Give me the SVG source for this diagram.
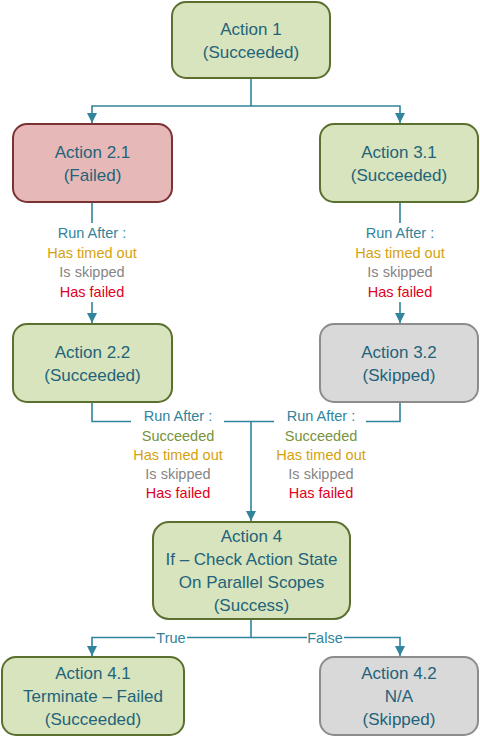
<svg xmlns="http://www.w3.org/2000/svg" width="480" height="741" viewBox="0 0 480 741">
<style>
.node rect{stroke-width:2}
.ok rect{fill:#d7e4bd;stroke:#5b6f2e}
.bad rect{fill:#e6b9b8;stroke:#7b3232}
.skip rect{fill:#d9d9d9;stroke:#8c8c8c}
.node text{font-family:"Liberation Sans",Arial,sans-serif;font-size:17px;fill:#23637a;text-anchor:middle}
.lbl{font-family:"Liberation Sans",Arial,sans-serif;font-size:14.5px;text-anchor:middle}
.ra{fill:#31849b}.to{fill:#d4a20c}.sk{fill:#858585}.fl{fill:#e0001b}.sc{fill:#77933c}
.conn path{fill:none;stroke:#31849b;stroke-width:1.6}
</style>
<defs>
<marker id="arr" markerUnits="userSpaceOnUse" markerWidth="10" markerHeight="10" viewBox="0 0 10 10" refX="10" refY="5" orient="auto">
<path d="M0,0 L10,5 L0,10 z" fill="#31849b"/>
</marker>
</defs>
<g id="connectors" class="conn">
<path d="M251,78 V106 H92 V123" marker-end="url(#arr)"/>
<path d="M251,106 H400 V123" marker-end="url(#arr)"/>
<path d="M92,202 V223"/>
<path d="M92,302 V323" marker-end="url(#arr)"/>
<path d="M400,202 V223"/>
<path d="M400,302 V323" marker-end="url(#arr)"/>
<path d="M92,402 V421.5 H131"/>
<path d="M224,421.5 H274"/>
<path d="M400,402 V421.5 H366"/>
<path d="M251,421.5 V521" marker-end="url(#arr)"/>
<path d="M251,619 V637.5 H92 V656" marker-end="url(#arr)"/>
<path d="M251,637.5 H400 V656" marker-end="url(#arr)"/>
<rect x="155" y="628" width="32" height="18" fill="#ffffff"/>
<rect x="307" y="628" width="37" height="18" fill="#ffffff"/>
<text class="lbl ra" x="171" y="642.5">True</text>
<text class="lbl ra" x="325" y="642.5">False</text>
<text class="lbl ra" x="92" y="238">Run After :</text>
<text class="lbl to" x="92" y="258">Has timed out</text>
<text class="lbl sk" x="92" y="277">Is skipped</text>
<text class="lbl fl" x="92" y="297">Has failed</text>
<text class="lbl ra" x="400" y="238">Run After :</text>
<text class="lbl to" x="400" y="258">Has timed out</text>
<text class="lbl sk" x="400" y="277">Is skipped</text>
<text class="lbl fl" x="400" y="297">Has failed</text>
<text class="lbl ra" x="178" y="421">Run After :</text>
<text class="lbl sc" x="178" y="440.5">Succeeded</text>
<text class="lbl to" x="178" y="460">Has timed out</text>
<text class="lbl sk" x="178" y="479">Is skipped</text>
<text class="lbl fl" x="178" y="498">Has failed</text>
<text class="lbl ra" x="321" y="421">Run After :</text>
<text class="lbl sc" x="321" y="440.5">Succeeded</text>
<text class="lbl to" x="321" y="460">Has timed out</text>
<text class="lbl sk" x="321" y="479">Is skipped</text>
<text class="lbl fl" x="321" y="498">Has failed</text>
</g>
<g id="action1" class="node ok">
<rect x="172" y="2" width="158" height="76" rx="14"/>
<text x="251" y="35">Action 1</text>
<text x="251" y="57.5">(Succeeded)</text>
</g>
<g id="action21" class="node bad">
<rect x="13" y="124" width="159" height="78" rx="14"/>
<text x="92.5" y="158">Action 2.1</text>
<text x="92.5" y="181">(Failed)</text>
</g>
<g id="action31" class="node ok">
<rect x="320" y="124" width="158" height="78" rx="14"/>
<text x="399" y="158">Action 3.1</text>
<text x="399" y="181">(Succeeded)</text>
</g>
<g id="action22" class="node ok">
<rect x="13" y="324" width="159" height="78" rx="14"/>
<text x="92.5" y="358">Action 2.2</text>
<text x="92.5" y="381">(Succeeded)</text>
</g>
<g id="action32" class="node skip">
<rect x="320" y="324" width="158" height="78" rx="14"/>
<text x="399" y="358">Action 3.2</text>
<text x="399" y="381">(Skipped)</text>
</g>
<g id="action4" class="node ok">
<rect x="153" y="522" width="197" height="97" rx="16"/>
<text x="251.5" y="542">Action 4</text>
<text x="251.5" y="565">If – Check Action State</text>
<text x="251.5" y="588">On Parallel Scopes</text>
<text x="251.5" y="611">(Success)</text>
</g>
<g id="action41" class="node ok">
<rect x="2" y="657" width="182" height="78" rx="14"/>
<text x="93" y="679">Action 4.1</text>
<text x="93" y="702">Terminate – Failed</text>
<text x="93" y="725">(Succeeded)</text>
</g>
<g id="action42" class="node skip">
<rect x="320" y="657" width="158" height="78" rx="14"/>
<text x="399" y="679">Action 4.2</text>
<text x="399" y="702">N/A</text>
<text x="399" y="725">(Skipped)</text>
</g>
</svg>
